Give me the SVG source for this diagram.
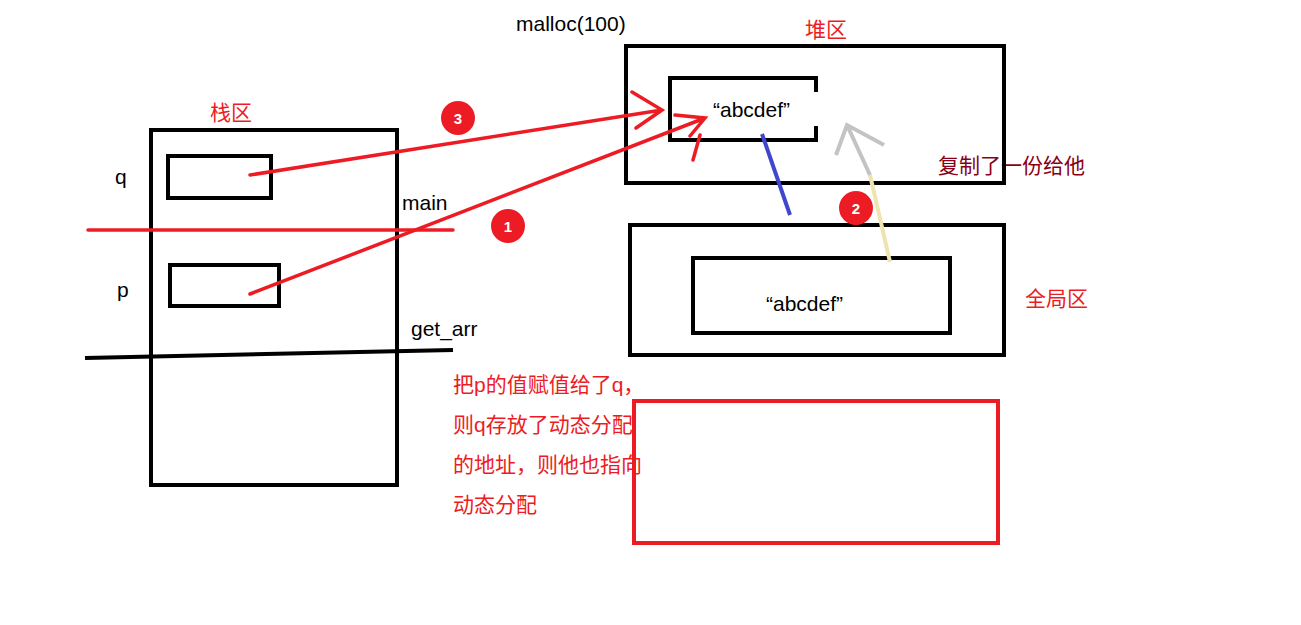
<svg xmlns="http://www.w3.org/2000/svg" width="1301" height="625" viewBox="0 0 1301 625">
<style>
.b{fill:none;stroke:#000;stroke-width:4}
.r{fill:none;stroke:#ed1c24;stroke-width:3.5;stroke-linecap:round}
.t{font-family:"Liberation Sans","Noto Sans CJK SC",sans-serif;font-size:21px}
.red{fill:#ed1c24}
</style>
<rect width="1301" height="625" fill="#fff"/>
<text class="t" x="516" y="31">malloc(100)</text>
<text class="t red" x="805" y="37">堆区</text>
<text class="t red" x="210" y="120">栈区</text>
<text class="t red" x="1025" y="306">全局区</text>
<text class="t" x="938" y="173" fill="#880015">复制了一份给他</text>
<g id="heap"><rect class="b" x="626" y="46" width="378" height="137"/></g>
<g id="heapinner"><path class="b" d="M816,92 V78 H670 V140 H816 V126"/><text class="t" x="713" y="117">“abcdef”</text></g>
<g id="global"><rect class="b" x="630" y="225" width="374" height="130"/><rect class="b" x="693" y="258" width="257" height="75"/><text class="t" x="766" y="311">“abcdef”</text></g>
<g id="stack"><rect class="b" x="151" y="130" width="246" height="355"/>
<text class="t" x="115" y="184">q</text><rect class="b" x="168" y="156" width="103" height="42"/>
<text class="t" x="117" y="297">p</text><rect class="b" x="170" y="265" width="109" height="41"/>
<text class="t" x="402" y="210">main</text><text class="t" x="411" y="336">get_arr</text></g>
<g id="note"><text class="t red" x="453" y="392">把p的值赋值给了q，</text><text class="t red" x="453" y="432">则q存放了动态分配</text><text class="t red" x="453" y="472">的地址，则他也指向</text><text class="t red" x="453" y="512">动态分配</text>
<rect x="634" y="401" width="364" height="142" fill="none" stroke="#ed1c24" stroke-width="4"/></g>
<g id="connectors">
<line class="r" x1="88" y1="230" x2="453" y2="230"/>
<line x1="85" y1="358" x2="453" y2="350" stroke="#000" stroke-width="4"/>
<path class="r" d="M250,175 L662,110 M632,92 L662,110 L636,128"/>
<path class="r" d="M250,294 L705,118 M675,115 L705,118 L690,136 M700,135 L693,160"/>
<line x1="762" y1="134" x2="790" y2="215" stroke="#3f48cc" stroke-width="4"/>
<line x1="870" y1="175" x2="890" y2="262" stroke="#efe4b0" stroke-width="4"/>
<path d="M870,175 L847,125 M836,155 L847,125 L884,145" fill="none" stroke="#c3c3c3" stroke-width="4"/>
<circle cx="458" cy="118" r="17" fill="#ed1c24"/><text x="458" y="124" font-family="Liberation Sans,sans-serif" font-size="15" font-weight="bold" fill="#fff" text-anchor="middle">3</text>
<circle cx="508" cy="226" r="17" fill="#ed1c24"/><text x="508" y="232" font-family="Liberation Sans,sans-serif" font-size="15" font-weight="bold" fill="#fff" text-anchor="middle">1</text>
<circle cx="856" cy="208" r="17" fill="#ed1c24"/><text x="856" y="214" font-family="Liberation Sans,sans-serif" font-size="15" font-weight="bold" fill="#fff" text-anchor="middle">2</text>
</g>
</svg>
